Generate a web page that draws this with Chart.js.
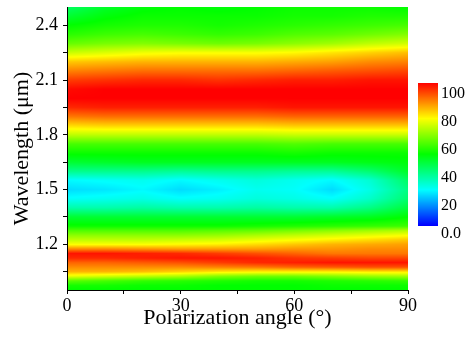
<!DOCTYPE html>
<html><head><meta charset="utf-8">
<script src="https://cdn.jsdelivr.net/npm/chart.js@4/dist/chart.umd.min.js"></script>
<style>html,body{margin:0;padding:0;background:#fff}#wrap{width:474px;height:342px;position:relative}</style>
</head><body><div id="wrap"><canvas id="c"></canvas></div>
<script>
// ---- data ----
const angles = [0, 10, 20, 30, 40, 50, 60, 70, 80, 90];
const wavelengths = [0.95, 0.975, 1.0, 1.025, 1.05, 1.075, 1.1, 1.125, 1.15, 1.175, 1.2, 1.225, 1.25, 1.275, 1.3,
  1.35, 1.4, 1.45, 1.5, 1.55, 1.6, 1.65, 1.7, 1.75, 1.8, 1.85, 1.9, 1.95, 2.0, 2.05, 2.1, 2.15, 2.2, 2.25, 2.3, 2.35, 2.4, 2.45, 2.5];
// intensity (colour value) at each wavelength, one array per polarization angle
const int0  = [57,59,66,80,90,94,98,104,106,94,82,76,71,65,58,52,40,32,28,31,43,52,58,64,76,86,96,104,108,107,102,95,88,77,67,61,57,52,47];
const int10 = [57,59,64,78,90,94,98,104,106,94,82,76,71,65,58,52,40,33,29,32,43,53,58,64,76,87,97,105,108,108,103,96,89,79,69,63,59,56,53];
const int20 = [57,58,62,76,89,94,99,105,105,93,82,76,71,65,58,52,41,34,31,33,43,54,58,64,76,87,97,105,108,108,104,97,90,81,70,64,60,58,56];
const int30 = [57,58,61,74,87,94,100,106,104,92,83,77,71,65,58,52,40,32,28,31,42,54,58,64,76,87,97,105,108,108,104,97,90,82,69,63,60,58,57];
const int40 = [57,57,60,70,85,95,102,106,102,92,84,78,72,66,58,52,40,33,30,33,43,54,58,64,76,87,97,105,108,108,103,97,90,82,68,62,59,58,56];
const int50 = [57,57,59,68,84,96,104,105,100,92,86,80,74,67,59,52,41,35,33,35,43,54,58,64,76,87,97,105,108,108,104,97,90,82,69,63,60,58,57];
const int60 = [57,57,59,68,84,98,105,103,98,93,88,82,76,69,60,52,40,34,32,33,42,54,59,65,77,88,98,106,108,108,105,98,91,83,71,65,61,59,58];
const int70 = [57,58,60,70,84,99,106,102,96,93,90,84,78,71,61,53,40,32,28,31,42,54,58,64,77,88,98,106,108,108,105,99,92,85,73,66,62,59,58];
const int80 = [57,58,61,72,85,100,106,101,96,94,91,86,80,73,62,54,44,37,34,36,46,55,58,64,77,88,98,106,108,108,106,100,94,87,76,68,63,60,58];
const int90 = [57,58,62,73,85,100,106,101,96,94,92,88,82,75,63,57,51,46,44,47,53,56,58,64,77,88,98,106,108,108,106,101,95,89,78,70,64,60,57];
const columns = [int0, int10, int20, int30, int40, int50, int60, int70, int80, int90];

const xTickValues = [0, 15, 30, 45, 60, 75, 90];
const xTickLabels = ['0', '', '30', '', '60', '', '90'];
const yTickValues = [1.05, 1.2, 1.35, 1.5, 1.65, 1.8, 1.95, 2.1, 2.25, 2.4];
const yTickLabels = ['', '1.2', '', '1.5', '', '1.8', '', '2.1', '', '2.4'];
const cbTickValues = [0, 20, 40, 60, 80, 100];
const cbTickLabels = ['0.0', '20', '40', '60', '80', '100'];

// ---- colour map ----
const COLOR_MIN = 6, COLOR_MAX = 108;
const stops = [[0, [0, 0, 255]], [0.25, [0, 255, 255]], [0.5, [0, 255, 0]], [0.75, [255, 255, 0]], [1, [255, 0, 0]]];
function cmap(v) {
  let t = (v - COLOR_MIN) / (COLOR_MAX - COLOR_MIN);
  t = Math.max(0, Math.min(1, t));
  for (let i = 1; i < stops.length; i++) {
    if (t <= stops[i][0]) {
      const [t0, c0] = stops[i - 1], [t1, c1] = stops[i];
      const f = (t - t0) / (t1 - t0);
      return [c0[0] + (c1[0] - c0[0]) * f, c0[1] + (c1[1] - c0[1]) * f, c0[2] + (c1[2] - c0[2]) * f];
    }
  }
  return stops[stops.length - 1][1];
}
function locate(arr, v) {
  if (v <= arr[0]) return [0, 0];
  const n = arr.length;
  if (v >= arr[n - 1]) return [n - 2, 1];
  let i = 0;
  while (i < n - 2 && v > arr[i + 1]) i++;
  return [i, (v - arr[i]) / (arr[i + 1] - arr[i])];
}

const heatPlugin = {
  id: 'heat',
  beforeDraw(chart) {
    const { ctx, chartArea: a, scales } = chart;
    const xs = scales.x, ys = scales.y, cb = scales.cb;
    const w = Math.round(a.right - a.left), h = Math.round(a.bottom - a.top);
    const off = document.createElement('canvas');
    off.width = w; off.height = h;
    const octx = off.getContext('2d');
    const img = octx.createImageData(w, h);
    const colIdx = [];
    for (let px = 0; px < w; px++) colIdx.push(locate(angles, xs.getValueForPixel(a.left + px + 0.5)));
    for (let py = 0; py < h; py++) {
      const [ri, rf] = locate(wavelengths, ys.getValueForPixel(a.top + py + 0.5));
      for (let px = 0; px < w; px++) {
        const [ci, cf] = colIdx[px];
        const A = columns[ci], B = columns[ci + 1];
        const va = A[ri] + (A[ri + 1] - A[ri]) * rf;
        const vb = B[ri] + (B[ri + 1] - B[ri]) * rf;
        const c = cmap(va + (vb - va) * cf);
        const k = (py * w + px) * 4;
        img.data[k] = c[0]; img.data[k + 1] = c[1]; img.data[k + 2] = c[2]; img.data[k + 3] = 255;
      }
    }
    octx.putImageData(img, 0, 0);
    ctx.drawImage(off, a.left, a.top, a.right - a.left, a.bottom - a.top);
    // colour bar
    const top = cb.getPixelForValue(COLOR_MAX), bot = cb.getPixelForValue(COLOR_MIN);
    const bx = a.right + 10, bw = 20;
    for (let py = Math.round(top); py < Math.round(bot); py++) {
      const c = cmap(cb.getValueForPixel(py + 0.5));
      ctx.fillStyle = `rgb(${c[0] | 0},${c[1] | 0},${c[2] | 0})`;
      ctx.fillRect(bx, py, bw, 1);
    }
  }
};

Chart.defaults.font.family = "'Liberation Serif', 'Times New Roman', serif";
Chart.defaults.color = '#000';

const points = [];
angles.forEach((ang, i) => wavelengths.forEach((wl, j) => points.push({ x: ang, y: wl, v: columns[i][j] })));

new Chart(document.getElementById('c'), {
  type: 'scatter',
  data: { datasets: [{ data: points, pointRadius: 0, pointHoverRadius: 0, showLine: false }] },
  options: {
    responsive: true, maintainAspectRatio: false, animation: false, events: [],
    layout: { padding: { top: 7, left: 0, right: 0, bottom: 0 } },
    plugins: { legend: { display: false }, tooltip: { enabled: false } },
    scales: {
      x: {
        type: 'linear', position: 'bottom', min: 0, max: 90,
        afterBuildTicks: s => { s.ticks = xTickValues.map(v => ({ value: v })); },
        ticks: { callback: (v, i) => xTickLabels[i], font: { size: 18 }, padding: 1, maxRotation: 0, autoSkip: false, color: '#000' },
        grid: { drawOnChartArea: false, drawTicks: true, tickLength: 4, tickColor: '#000', color: '#000' },
        border: { display: true, color: '#000', width: 1 },
        title: { display: true, text: 'Polarization angle (°)', font: { size: 22 }, color: '#000', padding: { top: 0, bottom: 11 } },
        afterFit: s => { s.height = 52; s.paddingLeft = 0; s.paddingRight = 0; }
      },
      y: {
        type: 'linear', position: 'left', min: 0.95, max: 2.5,
        afterBuildTicks: s => { s.ticks = yTickValues.map(v => ({ value: v })); },
        ticks: { callback: (v, i) => yTickLabels[i], font: { size: 18 }, padding: 5, autoSkip: false, color: '#000' },
        grid: { drawOnChartArea: false, drawTicks: true, tickLength: 4, tickColor: '#000', color: '#000' },
        border: { display: true, color: '#000', width: 1 },
        title: { display: true, text: 'Wavelength (μm)', font: { size: 22 }, color: '#000', padding: { top: 9, bottom: 0 } },
        afterFit: s => { s.width = 67; s.paddingTop = 0; s.paddingBottom = 0; }
      },
      cb: {
        type: 'linear', position: 'right', min: -40, max: 162.14,
        afterBuildTicks: s => { s.ticks = cbTickValues.map(v => ({ value: v })); },
        ticks: { callback: (v, i) => cbTickLabels[i], font: { size: 16 }, padding: 33, autoSkip: false, color: '#000' },
        grid: { display: false, drawTicks: false, drawOnChartArea: false },
        border: { display: false },
        afterFit: s => { s.width = 66; s.paddingTop = 0; s.paddingBottom = 0; }
      }
    }
  },
  plugins: [heatPlugin]
});
</script></body></html>
